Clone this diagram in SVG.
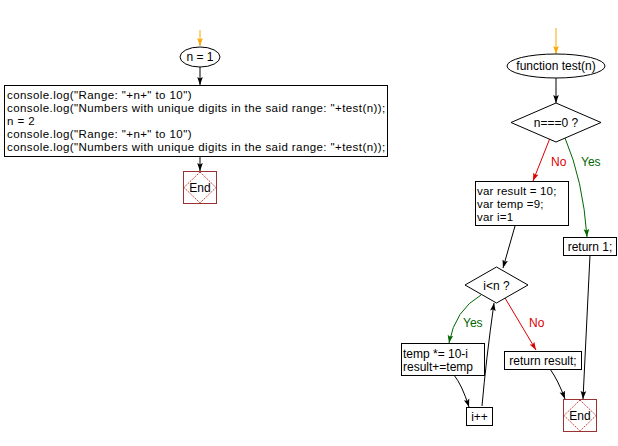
<svg xmlns="http://www.w3.org/2000/svg" width="618" height="446" viewBox="0 0 618 446">
<style>
text{font-family:"Liberation Sans",Arial,sans-serif;font-size:12px;fill:#000}
.c{text-anchor:middle}
.m{font-size:11.5px;letter-spacing:0.42px}
.s{font-size:11.5px;letter-spacing:0.2px}
.box{fill:#fff;stroke:#000;stroke-width:1}
.endbox{fill:#fff;stroke:#993333;stroke-width:1}
.endd{fill:none;stroke:#cc3333;stroke-width:1;stroke-dasharray:1.5 1}
.k{fill:none;stroke:#000;stroke-width:1}
.g{fill:none;stroke:#006600;stroke-width:1}
.r{fill:none;stroke:#dd0000;stroke-width:1}
.o{fill:none;stroke:#ffa500;stroke-width:1}
.gt{fill:#006600}
.rt{fill:#dd0000}
</style>
<defs>
<marker id="ak" viewBox="0 0 10 10" refX="10" refY="5" markerWidth="8" markerHeight="10" markerUnits="userSpaceOnUse" orient="auto"><path d="M0,1.5 L10,5 L0,8.5 L2,5 Z" fill="#000"/></marker>
<marker id="ag" viewBox="0 0 10 10" refX="10" refY="5" markerWidth="8" markerHeight="10" markerUnits="userSpaceOnUse" orient="auto"><path d="M0,1.5 L10,5 L0,8.5 L2,5 Z" fill="#006600"/></marker>
<marker id="ar" viewBox="0 0 10 10" refX="10" refY="5" markerWidth="8" markerHeight="10" markerUnits="userSpaceOnUse" orient="auto"><path d="M0,1.5 L10,5 L0,8.5 L2,5 Z" fill="#dd0000"/></marker>
<marker id="ao" viewBox="0 0 10 10" refX="10" refY="5" markerWidth="8" markerHeight="10" markerUnits="userSpaceOnUse" orient="auto"><path d="M0,1.5 L10,5 L0,8.5 L2,5 Z" fill="#ffa500"/></marker>
</defs>

<g id="connectors">
<path class="o" d="M200,30 L200,46" marker-end="url(#ao)"/>
<path class="k" d="M200,67 L200,85" marker-end="url(#ak)"/>
<path class="k" d="M200,157 L200,171" marker-end="url(#ak)"/>
<path class="o" d="M556,28 L556,54" marker-end="url(#ao)"/>
<path class="k" d="M556,78 L556,103" marker-end="url(#ak)"/>
<path class="r" d="M550,138 L533,181" marker-end="url(#ar)"/>
<text class="rt" x="551" y="166">No</text>
<path class="g" d="M565,138 Q583,180 587,237" marker-end="url(#ag)"/>
<text class="gt" x="581" y="166">Yes</text>
<path class="k" d="M515,226 L503,268" marker-end="url(#ak)"/>
<path class="g" d="M481,295 Q455,310 449,343" marker-end="url(#ag)"/>
<text class="gt" x="463" y="327">Yes</text>
<path class="r" d="M505,298 L536,350" marker-end="url(#ar)"/>
<text class="rt" x="529" y="327">No</text>
<path class="k" d="M454,375 Q462,385 469,407" marker-end="url(#ak)"/>
<path class="k" d="M482,406 Q486,360 494,303" marker-end="url(#ak)"/>
<path class="k" d="M550,369 Q558,380 565,399" marker-end="url(#ak)"/>
<path class="k" d="M590,255 L583,399" marker-end="url(#ak)"/>
</g>

<g id="start1">
<ellipse class="box" cx="200" cy="57" rx="20" ry="10"/>
<text class="c" x="200" y="61">n = 1</text>
</g>

<g id="main">
<rect class="box" x="4.5" y="85.5" width="383" height="71"/>
<text class="m" x="7" y="98.5">console.log("Range: "+n+" to 10")</text>
<text class="m" x="7" y="111.5">console.log("Numbers with unique digits in the said range: "+test(n));</text>
<text class="m" x="7" y="124.5">n = 2</text>
<text class="m" x="7" y="137.5">console.log("Range: "+n+" to 10")</text>
<text class="m" x="7" y="150.5">console.log("Numbers with unique digits in the said range: "+test(n));</text>
</g>

<g id="end1">
<rect class="endbox" x="183.5" y="171.5" width="33" height="32"/>
<path class="endd" d="M200,172 L216,187.5 L200,203 L184,187.5 Z"/>
<text class="c" x="200" y="192">End</text>
</g>

<g id="start2">
<ellipse class="box" cx="556" cy="66" rx="49" ry="12"/>
<text class="c" x="556" y="70">function test(n)</text>
</g>

<g id="cond1">
<path class="box" d="M556,103 L601,122.5 L556,142 L511,122.5 Z"/>
<text class="c" x="556" y="127">n===0 ?</text>
</g>

<g id="init">
<rect class="box" x="475.5" y="181.5" width="93" height="44"/>
<text class="s" x="477" y="195">var result = 10;</text>
<text class="s" x="477" y="208">var temp =9;</text>
<text class="s" x="477" y="221">var i=1</text>
</g>

<g id="ret1">
<rect class="box" x="563.5" y="237.5" width="53" height="18"/>
<text class="c" x="590" y="251">return 1;</text>
</g>

<g id="cond2">
<path class="box" d="M496.5,267 L528,285 L496.5,303 L465,285 Z"/>
<text class="c" x="496.5" y="289.5">i&lt;n ?</text>
</g>

<g id="body">
<rect class="box" x="401.5" y="343.5" width="83" height="32"/>
<text x="403" y="357.5">temp *= 10-i</text>
<text x="403" y="370.5">result+=temp</text>
</g>

<g id="retres">
<rect class="box" x="504.5" y="351.5" width="77" height="18"/>
<text class="c" x="543" y="364.5">return result;</text>
</g>

<g id="inc">
<rect class="box" x="466.5" y="407.5" width="26" height="18"/>
<text class="c" x="479.5" y="421">i++</text>
</g>

<g id="end2">
<rect class="endbox" x="563.5" y="399.5" width="33" height="32"/>
<path class="endd" d="M580,400 L596,415.5 L580,431 L564,415.5 Z"/>
<text class="c" x="580" y="420">End</text>
</g>
</svg>
